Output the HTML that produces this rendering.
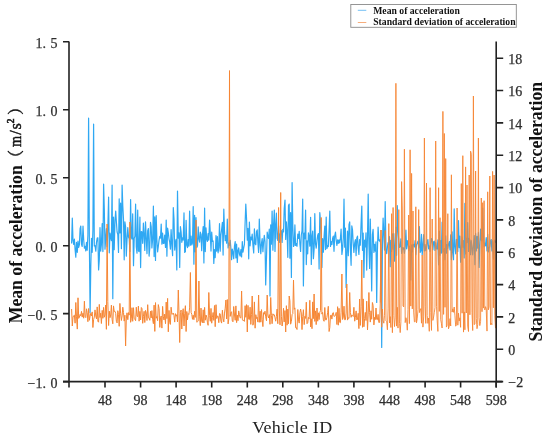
<!DOCTYPE html><html><head><meta charset="utf-8"><title>chart</title><style>html,body{margin:0;padding:0;background:#fff;width:550px;height:440px;overflow:hidden}svg{display:block}</style></head><body><svg width="550" height="440" viewBox="0 0 550 440">
<rect width="550" height="440" fill="#fff"/>
<polyline points="71.6,243.5 72.3,218.0 73.0,240.4 73.7,244.3 74.4,239.2 75.1,249.6 75.8,257.2 76.5,242.3 77.3,252.3 78.0,241.0 78.7,247.4 79.4,244.5 80.1,228.6 80.8,226.0 81.5,244.3 82.2,246.5 83.0,226.0 83.7,239.8 84.4,248.1 85.1,246.4 85.8,250.9 86.5,242.4 87.2,250.1 87.9,235.2 88.6,118.0 89.4,246.4 90.1,312.5 90.8,265.5 91.5,238.3 92.2,252.3 92.9,230.4 93.6,124.0 94.3,246.0 95.0,245.6 95.8,251.1 96.5,242.3 97.2,238.1 97.9,237.8 98.6,270.0 99.3,259.6 100.0,227.6 100.7,251.1 101.4,244.8 102.2,223.5 102.9,251.6 103.6,184.0 104.3,208.8 105.0,249.2 105.7,238.4 106.4,228.5 107.1,246.7 107.8,230.2 108.6,197.0 109.3,252.8 110.0,233.0 110.7,237.3 111.4,240.7 112.1,185.0 112.8,298.7 113.5,217.0 114.2,249.7 115.0,220.9 115.7,211.0 116.4,222.0 117.1,232.0 117.8,234.7 118.5,252.5 119.2,198.8 119.9,232.9 120.6,203.0 121.4,248.7 122.1,185.0 122.8,205.9 123.5,219.4 124.2,259.8 124.9,221.9 125.6,226.8 126.3,256.1 127.0,239.9 127.8,227.6 128.5,237.0 129.2,238.8 129.9,251.5 130.6,199.6 131.3,237.6 132.0,239.0 132.7,213.8 133.5,265.7 134.2,238.4 134.9,236.3 135.6,204.0 136.3,246.9 137.0,253.2 137.7,210.0 138.4,250.8 139.1,251.6 139.9,217.0 140.6,267.6 141.3,231.6 142.0,232.1 142.7,243.3 143.4,223.0 144.1,234.6 144.8,250.5 145.5,221.8 146.3,239.0 147.0,253.6 147.7,230.6 148.4,228.5 149.1,256.1 149.8,247.6 150.5,222.3 151.2,226.8 151.9,248.0 152.7,238.2 153.4,206.0 154.1,256.6 154.8,216.9 155.5,260.5 156.2,215.5 156.9,240.1 157.6,251.8 158.3,246.5 159.1,239.8 159.8,236.4 160.5,238.1 161.2,224.0 161.9,244.2 162.6,233.1 163.3,243.5 164.0,243.3 164.7,235.1 165.5,247.4 166.2,220.0 166.9,256.2 167.6,228.2 168.3,232.7 169.0,238.8 169.7,242.1 170.4,249.1 171.1,229.6 171.9,246.0 172.6,255.6 173.3,207.5 174.0,219.0 174.7,250.1 175.4,242.1 176.1,239.4 176.8,270.0 177.5,191.0 178.3,238.2 179.0,232.8 179.7,267.5 180.4,226.7 181.1,231.8 181.8,242.3 182.5,237.8 183.2,240.1 184.0,212.9 184.7,252.5 185.4,251.6 186.1,220.3 186.8,245.4 187.5,247.6 188.2,239.6 188.9,246.2 189.6,211.2 190.4,245.2 191.1,236.2 191.8,245.0 192.5,242.9 193.2,206.5 193.9,264.2 194.6,215.3 195.3,251.9 196.0,217.6 196.8,247.4 197.5,246.0 198.2,226.8 198.9,238.7 199.6,242.1 200.3,232.2 201.0,234.3 201.7,250.7 202.4,235.8 203.2,226.6 203.9,262.9 204.6,208.0 205.3,251.6 206.0,227.8 206.7,238.9 207.4,241.5 208.1,233.6 208.8,240.1 209.6,220.1 210.3,233.5 211.0,251.1 211.7,232.0 212.4,241.4 213.1,241.0 213.8,263.5 214.5,249.6 215.2,257.6 216.0,235.6 216.7,251.1 217.4,236.6 218.1,252.8 218.8,247.1 219.5,223.7 220.2,251.2 220.9,235.0 221.6,229.5 222.4,222.3 223.1,255.1 223.8,209.0 224.5,231.0 225.2,240.6 225.9,235.5 226.6,243.2 227.3,219.0 228.1,247.9 228.8,243.2 229.5,245.4 230.2,240.4 230.9,248.3 231.6,259.6 232.3,249.1 233.0,252.2 233.7,258.6 234.5,245.8 235.2,241.6 235.9,258.0 236.6,244.2 237.3,262.4 238.0,250.7 238.7,247.9 239.4,254.1 240.1,256.1 240.9,249.5 241.6,256.9 242.3,241.6 243.0,252.1 243.7,248.0 244.4,244.4 245.1,223.3 245.8,204.0 246.5,217.7 247.3,240.2 248.0,228.4 248.7,258.8 249.4,222.0 250.1,245.8 250.8,237.2 251.5,239.8 252.2,234.1 252.9,244.6 253.7,253.0 254.4,228.9 255.1,243.6 255.8,244.8 256.5,231.8 257.2,229.9 257.9,242.6 258.6,252.5 259.3,219.0 260.1,244.9 260.8,253.7 261.5,243.1 262.2,238.7 262.9,251.7 263.6,242.3 264.3,235.4 265.0,241.3 265.7,285.0 266.5,257.0 267.2,232.1 267.9,236.8 268.6,238.5 269.3,229.2 270.0,296.0 270.7,224.9 271.4,244.2 272.1,211.0 272.9,250.2 273.6,224.0 274.3,210.0 275.0,251.4 275.7,224.7 276.4,213.0 277.1,238.4 277.8,240.5 278.6,225.8 279.3,242.4 280.0,233.9 280.7,233.4 281.4,230.7 282.1,242.5 282.8,229.4 283.5,231.9 284.2,208.9 285.0,200.0 285.7,239.4 286.4,221.8 287.1,231.8 287.8,257.3 288.5,205.5 289.2,204.0 289.9,258.2 290.6,212.6 291.4,277.5 292.1,182.5 292.8,225.8 293.5,246.4 294.2,245.1 294.9,224.9 295.6,245.5 296.3,243.6 297.0,246.3 297.8,234.1 298.5,238.5 299.2,231.4 299.9,243.7 300.6,251.5 301.3,235.0 302.0,231.0 302.7,199.0 303.4,286.0 304.2,233.0 304.9,238.7 305.6,210.0 306.3,264.6 307.0,240.8 307.7,253.8 308.4,232.9 309.1,236.7 309.8,246.1 310.6,217.3 311.3,264.4 312.0,236.5 312.7,231.1 313.4,258.7 314.1,249.4 314.8,213.7 315.5,243.7 316.2,248.2 317.0,240.4 317.7,235.3 318.4,233.6 319.1,268.9 319.8,212.5 320.5,221.2 321.2,235.5 321.9,267.4 322.6,238.6 323.4,252.2 324.1,236.0 324.8,226.1 325.5,249.6 326.2,217.0 326.9,248.6 327.6,245.5 328.3,246.6 329.1,229.7 329.8,211.0 330.5,246.4 331.2,241.5 331.9,244.7 332.6,238.5 333.3,236.1 334.0,251.3 334.7,235.8 335.5,232.2 336.2,240.5 336.9,245.5 337.6,239.9 338.3,243.5 339.0,239.9 339.7,242.9 340.4,238.5 341.1,229.1 341.9,254.5 342.6,249.0 343.3,238.0 344.0,199.0 344.7,247.2 345.4,228.0 346.1,287.5 346.8,255.6 347.5,231.2 348.3,255.7 349.0,224.7 349.7,221.9 350.4,249.6 351.1,265.3 351.8,225.9 352.5,229.9 353.2,243.4 353.9,252.4 354.7,242.8 355.4,239.7 356.1,255.6 356.8,238.0 357.5,236.1 358.2,247.9 358.9,254.5 359.6,239.6 360.3,245.2 361.1,222.7 361.8,206.0 362.5,250.3 363.2,233.1 363.9,277.5 364.6,240.1 365.3,246.8 366.0,232.8 366.7,270.1 367.5,236.0 368.2,194.0 368.9,244.3 369.6,268.5 370.3,219.0 371.0,253.6 371.7,291.0 372.4,234.6 373.1,229.4 373.9,252.5 374.6,244.3 375.3,251.2 376.0,241.8 376.7,302.5 377.4,250.8 378.1,227.0 378.8,240.1 379.6,241.0 380.3,239.3 381.0,251.4 381.7,347.5 382.4,244.9 383.1,218.0 383.8,233.1 384.5,250.1 385.2,201.6 386.0,251.3 386.7,253.7 387.4,247.2 388.1,242.6 388.8,244.5 389.5,236.7 390.2,266.7 390.9,240.3 391.6,251.3 392.4,233.8 393.1,249.1 393.8,233.5 394.5,261.1 395.2,248.8 395.9,227.1 396.6,255.3 397.3,205.7 398.0,229.6 398.8,241.5 399.5,247.4 400.2,246.7 400.9,238.8 401.6,253.3 402.3,247.5 403.0,249.2 403.7,247.7 404.4,253.3 405.2,246.6 405.9,230.1 406.6,248.8 407.3,240.6 408.0,243.3 408.7,250.7 409.4,246.2 410.1,249.4 410.8,280.0 411.6,244.8 412.3,252.0 413.0,244.4 413.7,244.5 414.4,246.9 415.1,240.5 415.8,254.8 416.5,244.7 417.2,243.2 418.0,241.2 418.7,247.9 419.4,226.5 420.1,252.5 420.8,251.0 421.5,234.4 422.2,254.9 422.9,245.7 423.7,234.7 424.4,250.9 425.1,244.6 425.8,250.6 426.5,247.8 427.2,242.2 427.9,239.5 428.6,248.9 429.3,245.9 430.1,251.3 430.8,244.0 431.5,238.7 432.2,239.3 432.9,249.8 433.6,242.0 434.3,241.2 435.0,250.4 435.7,242.5 436.5,248.8 437.2,248.8 437.9,239.8 438.6,264.8 439.3,231.1 440.0,255.3 440.7,240.7 441.4,253.1 442.1,222.2 442.9,252.2 443.6,251.2 444.3,248.6 445.0,259.6 445.7,235.8 446.4,253.2 447.1,244.5 447.8,248.5 448.5,244.3 449.3,241.6 450.0,250.0 450.7,234.8 451.4,259.7 452.1,231.8 452.8,252.5 453.5,259.7 454.2,208.9 454.9,246.7 455.7,253.8 456.4,239.5 457.1,239.3 457.8,251.4 458.5,220.5 459.2,247.6 459.9,236.0 460.6,262.2 461.3,248.6 462.1,236.8 462.8,247.2 463.5,240.7 464.2,257.9 464.9,203.4 465.6,253.9 466.3,238.3 467.0,242.6 467.7,222.5 468.5,251.4 469.2,238.3 469.9,240.3 470.6,254.7 471.3,240.7 472.0,247.8 472.7,254.8 473.4,245.7 474.2,235.5 474.9,264.7 475.6,233.4 476.3,251.0 477.0,236.3 477.7,248.2 478.4,232.5 479.1,267.4 479.8,246.0 480.6,229.1 481.3,240.3 482.0,240.9 482.7,208.0 483.4,235.7 484.1,247.0 484.8,243.1 485.5,245.8 486.2,237.7 487.0,250.9 487.7,234.3 488.4,252.0 489.1,247.7 489.8,246.9 490.5,240.9 491.2,239.6 491.9,250.9 492.6,240.6 493.4,259.1 494.1,242.6 494.8,240.2 495.5,242.1 496.2,242.3" fill="none" stroke="#2fa8f3" stroke-width="1.2" stroke-linejoin="round" stroke-opacity="1"/>
<polyline points="71.6,309.0 72.3,326.0 73.0,317.0 73.7,315.7 74.4,315.2 75.1,323.2 75.8,302.5 76.5,316.8 77.3,329.1 78.0,297.8 78.7,318.4 79.4,317.1 80.1,314.4 80.8,315.8 81.5,311.4 82.2,317.1 83.0,313.2 83.7,318.2 84.4,301.2 85.1,316.7 85.8,317.6 86.5,308.8 87.2,312.6 87.9,321.7 88.6,308.5 89.4,320.3 90.1,316.0 90.8,313.2 91.5,316.0 92.2,311.9 92.9,327.5 93.6,319.6 94.3,317.0 95.0,309.9 95.8,316.0 96.5,318.9 97.2,306.9 97.9,321.3 98.6,322.2 99.3,304.4 100.0,317.5 100.7,313.2 101.4,323.5 102.2,310.4 102.9,318.3 103.6,307.4 104.3,317.2 105.0,314.7 105.7,305.0 106.4,329.3 107.1,224.0 107.8,301.7 108.6,325.5 109.3,311.2 110.0,317.7 110.7,315.0 111.4,305.1 112.1,319.4 112.8,323.8 113.5,305.9 114.2,311.4 115.0,311.3 115.7,313.4 116.4,321.4 117.1,322.9 117.8,310.7 118.5,314.6 119.2,326.3 119.9,303.4 120.6,313.2 121.4,320.5 122.1,315.9 122.8,307.2 123.5,312.4 124.2,321.1 124.9,315.2 125.6,346.0 126.3,319.0 127.0,312.8 127.8,319.7 128.5,312.6 129.2,315.1 129.9,222.0 130.6,322.3 131.3,318.8 132.0,307.7 132.7,321.3 133.5,307.7 134.2,318.5 134.9,319.1 135.6,320.7 136.3,307.2 137.0,316.3 137.7,316.6 138.4,306.1 139.1,321.2 139.9,311.4 140.6,320.0 141.3,307.5 142.0,308.7 142.7,323.3 143.4,316.6 144.1,311.3 144.8,322.5 145.5,310.4 146.3,313.1 147.0,320.5 147.7,304.7 148.4,317.8 149.1,318.0 149.8,320.3 150.5,311.2 151.2,317.9 151.9,310.6 152.7,319.8 153.4,323.7 154.1,305.1 154.8,331.4 155.5,302.6 156.2,318.2 156.9,316.5 157.6,320.7 158.3,304.6 159.1,308.6 159.8,327.4 160.5,317.8 161.2,316.0 161.9,328.1 162.6,306.4 163.3,316.3 164.0,320.0 164.7,314.1 165.5,323.7 166.2,302.1 166.9,318.6 167.6,298.4 168.3,331.8 169.0,310.4 169.7,322.6 170.4,324.4 171.1,307.2 171.9,314.4 172.6,314.0 173.3,313.1 174.0,315.6 174.7,322.1 175.4,313.6 176.1,316.2 176.8,314.7 177.5,321.9 178.3,290.0 179.0,313.2 179.7,342.5 180.4,312.5 181.1,310.0 181.8,329.0 182.5,312.9 183.2,308.7 184.0,326.0 184.7,313.7 185.4,305.7 186.1,331.5 186.8,311.5 187.5,319.8 188.2,313.6 188.9,314.4 189.6,307.9 190.4,272.5 191.1,312.4 191.8,314.4 192.5,319.3 193.2,315.2 193.9,319.7 194.6,311.3 195.3,317.4 196.0,220.0 196.8,322.2 197.5,321.7 198.2,321.1 198.9,281.0 199.6,316.9 200.3,325.6 201.0,308.1 201.7,321.6 202.4,322.8 203.2,309.8 203.9,323.0 204.6,307.4 205.3,320.2 206.0,315.0 206.7,317.2 207.4,322.2 208.1,325.3 208.8,292.5 209.6,315.7 210.3,321.3 211.0,308.4 211.7,323.2 212.4,317.6 213.1,312.5 213.8,320.4 214.5,305.5 215.2,326.7 216.0,304.7 216.7,318.5 217.4,316.0 218.1,316.3 218.8,322.7 219.5,313.5 220.2,313.8 220.9,321.0 221.6,323.1 222.4,310.2 223.1,318.4 223.8,321.9 224.5,313.1 225.2,308.2 225.9,300.0 226.6,319.0 227.3,299.5 228.1,323.9 228.8,318.9 229.5,70.6 230.2,316.4 230.9,312.4 231.6,311.7 232.3,321.1 233.0,321.8 233.7,306.5 234.5,315.0 235.2,320.3 235.9,305.9 236.6,322.6 237.3,315.1 238.0,320.7 238.7,310.9 239.4,314.4 240.1,317.8 240.9,317.8 241.6,291.0 242.3,319.2 243.0,320.7 243.7,320.2 244.4,321.4 245.1,305.7 245.8,317.3 246.5,304.6 247.3,332.0 248.0,305.4 248.7,319.2 249.4,319.6 250.1,307.2 250.8,324.4 251.5,314.7 252.2,296.0 252.9,325.2 253.7,322.1 254.4,301.9 255.1,328.2 255.8,314.7 256.5,318.5 257.2,317.3 257.9,322.1 258.6,295.0 259.3,322.3 260.1,311.2 260.8,322.2 261.5,309.6 262.2,319.3 262.9,326.6 263.6,312.6 264.3,314.2 265.0,311.2 265.7,316.8 266.5,320.8 267.2,295.0 267.9,315.5 268.6,318.0 269.3,314.6 270.0,324.3 270.7,297.5 271.4,315.3 272.1,323.7 272.9,313.8 273.6,315.1 274.3,314.8 275.0,317.7 275.7,321.2 276.4,316.4 277.1,309.1 277.8,323.7 278.6,207.5 279.3,310.9 280.0,324.8 280.7,192.5 281.4,316.2 282.1,326.0 282.8,321.0 283.5,308.3 284.2,321.9 285.0,310.6 285.7,332.0 286.4,305.7 287.1,325.2 287.8,309.1 288.5,323.7 289.2,296.0 289.9,300.7 290.6,324.2 291.4,321.3 292.1,314.6 292.8,313.7 293.5,280.0 294.2,309.3 294.9,307.9 295.6,327.7 296.3,327.5 297.0,329.5 297.8,309.5 298.5,319.9 299.2,323.1 299.9,312.8 300.6,309.0 301.3,313.0 302.0,329.6 302.7,316.4 303.4,309.7 304.2,324.6 304.9,316.3 305.6,318.4 306.3,302.2 307.0,323.7 307.7,322.8 308.4,317.4 309.1,318.8 309.8,300.3 310.6,327.0 311.3,318.8 312.0,328.7 312.7,301.9 313.4,318.6 314.1,294.0 314.8,321.4 315.5,310.9 316.2,324.6 317.0,308.0 317.7,321.2 318.4,312.8 319.1,319.6 319.8,312.3 320.5,310.6 321.2,217.5 321.9,314.1 322.6,312.4 323.4,319.9 324.1,321.3 324.8,307.5 325.5,319.8 326.2,320.0 326.9,317.4 327.6,312.7 328.3,306.3 329.1,331.5 329.8,327.5 330.5,315.4 331.2,315.0 331.9,319.1 332.6,313.2 333.3,312.5 334.0,316.4 334.7,316.1 335.5,315.4 336.2,312.4 336.9,324.5 337.6,306.7 338.3,325.2 339.0,308.3 339.7,322.3 340.4,322.7 341.1,312.2 341.9,274.0 342.6,319.5 343.3,317.0 344.0,306.2 344.7,319.8 345.4,319.7 346.1,313.1 346.8,284.0 347.5,320.1 348.3,317.8 349.0,318.4 349.7,292.5 350.4,312.4 351.1,317.3 351.8,314.9 352.5,315.6 353.2,316.5 353.9,307.3 354.7,321.2 355.4,317.4 356.1,310.9 356.8,320.0 357.5,319.2 358.2,313.3 358.9,328.6 359.6,299.0 360.3,325.4 361.1,306.7 361.8,260.0 362.5,327.3 363.2,298.9 363.9,326.8 364.6,318.6 365.3,312.4 366.0,320.5 366.7,301.2 367.5,329.9 368.2,314.9 368.9,292.5 369.6,312.7 370.3,322.1 371.0,310.8 371.7,319.3 372.4,302.5 373.1,305.3 373.9,324.9 374.6,317.3 375.3,319.6 376.0,308.0 376.7,319.4 377.4,319.7 378.1,314.4 378.8,322.5 379.6,322.4 380.3,302.8 381.0,230.0" fill="none" stroke="#f68634" stroke-width="1.0" stroke-linejoin="round" stroke-opacity="1"/>
<polyline points="380.3,302.8 381.0,230.0 381.7,327.2 382.4,309.1 383.1,320.3 383.8,323.2 384.5,315.7 385.2,230.4 386.0,321.0 386.7,321.7 387.4,329.8 388.1,308.8 388.8,223.6 389.5,323.0 390.2,316.6 390.9,327.5 391.6,213.7 392.4,332.7 393.1,207.5 393.8,315.7 394.5,326.6 395.2,317.9 395.9,83.3 396.6,326.1 397.3,307.3 398.0,328.1 398.8,209.6 399.5,323.3 400.2,332.6 400.9,321.8 401.6,181.6 402.3,208.0 403.0,306.0 403.7,306.9 404.4,149.2 405.2,322.6 405.9,317.7 406.6,319.8 407.3,330.2 408.0,309.6 408.7,215.0 409.4,323.6 410.1,149.8 410.8,306.1 411.6,173.4 412.3,308.9 413.0,211.0 413.7,312.1 414.4,321.8 415.1,321.9 415.8,206.8 416.5,322.8 417.2,318.8 418.0,309.6 418.7,209.6 419.4,312.6 420.1,310.0 420.8,308.6 421.5,323.2 422.2,255.1 422.9,327.1 423.7,316.9 424.4,138.0 425.1,306.3 425.8,323.4 426.5,183.0 427.2,315.5 427.9,323.4 428.6,318.0 429.3,331.3 430.1,187.7 430.8,312.7 431.5,330.4 432.2,219.0 432.9,320.4 433.6,317.0 434.3,312.4 435.0,307.6 435.7,141.0 436.5,306.3 437.2,320.9 437.9,331.4 438.6,187.7 439.3,311.4 440.0,217.7 440.7,319.7 441.4,323.3 442.1,328.0 442.9,111.4 443.6,314.4 444.3,133.5 445.0,307.3 445.7,158.6 446.4,327.1 447.1,325.3 447.8,213.7 448.5,328.8 449.3,326.1 450.0,318.6 450.7,326.0 451.4,174.8 452.1,312.1 452.8,308.8 453.5,312.3 454.2,307.0 454.9,315.1 455.7,326.2 456.4,324.8 457.1,208.0 457.8,325.2 458.5,313.2 459.2,321.0 459.9,317.8 460.6,327.3 461.3,183.6 462.1,313.2 462.8,155.7 463.5,332.1 464.2,311.9 464.9,329.8 465.6,166.9 466.3,313.0 467.0,185.0 467.7,326.1 468.5,331.5 469.2,175.0 469.9,314.8 470.6,151.2 471.3,154.2 472.0,312.5 472.7,330.5 473.4,96.0 474.2,324.7 474.9,324.0 475.6,171.0 476.3,318.7 477.0,328.7 477.7,324.8 478.4,138.0 479.1,317.8 479.8,325.6 480.6,321.4 481.3,198.0 482.0,311.7 482.7,202.7 483.4,308.1 484.1,200.7 484.8,309.9 485.5,306.7 486.2,308.9 487.0,331.1 487.7,191.8 488.4,309.8 489.1,306.8 489.8,176.0 490.5,324.7 491.2,323.1 491.9,324.8 492.6,171.4 493.4,307.8 494.1,175.0 494.8,315.8 495.5,328.1 496.2,180.0" fill="none" stroke="#f68634" stroke-width="0.9" stroke-linejoin="round" stroke-opacity="1"/>
<path d="M69.0 41.4V387.6M63.0 381.6H502.2M496.2 41.4V387.6" stroke="#222" stroke-width="1.6" fill="none"/>
<path d="M63.0 41.8H69.0M63.0 109.8H69.0M63.0 177.7H69.0M63.0 245.7H69.0M63.0 313.6H69.0M63.0 381.6H69.0M105.0 381.6V387.6M140.6 381.6V387.6M176.1 381.6V387.6M211.7 381.6V387.6M247.3 381.6V387.6M282.8 381.6V387.6M318.4 381.6V387.6M353.9 381.6V387.6M389.5 381.6V387.6M425.1 381.6V387.6M460.6 381.6V387.6M496.2 381.6V387.6M496.2 381.6H503.2M496.2 349.3H503.2M496.2 316.9H503.2M496.2 284.6H503.2M496.2 252.2H503.2M496.2 219.9H503.2M496.2 187.6H503.2M496.2 155.2H503.2M496.2 122.9H503.2M496.2 90.5H503.2M496.2 58.2H503.2" stroke="#222" stroke-width="1.6" fill="none"/>
<g font-family="Liberation Serif, serif" font-size="14" fill="#2e2e2e" stroke="#2e2e2e" stroke-width="0.25">
<text x="57.5" y="47.7" text-anchor="end">1.<tspan dx="4.5">5</tspan></text>
<text x="57.5" y="115.7" text-anchor="end">1.<tspan dx="4.5">0</tspan></text>
<text x="57.5" y="183.6" text-anchor="end">0.<tspan dx="4.5">5</tspan></text>
<text x="57.5" y="251.6" text-anchor="end">0.<tspan dx="4.5">0</tspan></text>
<text x="57.5" y="319.5" text-anchor="end">−0.<tspan dx="4.5">5</tspan></text>
<text x="57.5" y="387.5" text-anchor="end">−1.<tspan dx="4.5">0</tspan></text>
<text x="105.0" y="405" text-anchor="middle">48</text>
<text x="140.6" y="405" text-anchor="middle">98</text>
<text x="176.1" y="405" text-anchor="middle">148</text>
<text x="211.7" y="405" text-anchor="middle">198</text>
<text x="247.3" y="405" text-anchor="middle">248</text>
<text x="282.8" y="405" text-anchor="middle">298</text>
<text x="318.4" y="405" text-anchor="middle">348</text>
<text x="353.9" y="405" text-anchor="middle">398</text>
<text x="389.5" y="405" text-anchor="middle">448</text>
<text x="425.1" y="405" text-anchor="middle">498</text>
<text x="460.6" y="405" text-anchor="middle">548</text>
<text x="496.2" y="405" text-anchor="middle">598</text>
<text x="508.3" y="387.2">−2</text>
<text x="508.3" y="354.9">0</text>
<text x="508.3" y="322.5">2</text>
<text x="508.3" y="290.2">4</text>
<text x="508.3" y="257.8">6</text>
<text x="508.3" y="225.5">8</text>
<text x="508.3" y="193.2">10</text>
<text x="508.3" y="160.8">12</text>
<text x="508.3" y="128.5">14</text>
<text x="508.3" y="96.1">16</text>
<text x="508.3" y="63.8">18</text>
</g>
<text x="0" y="0" transform="translate(21.8 323.3) rotate(-90) scale(1 1.06)" font-family="Liberation Serif, serif" font-weight="bold" font-size="17.7" fill="#111">Mean of acceleration</text>
<g transform="translate(21.2 0) rotate(-90) scale(1 1.05)" fill="#151515" stroke="#151515" stroke-width="0.45" font-family="Liberation Serif, serif" font-size="16.3">
<text x="-165.6" y="0" font-family="Noto Serif CJK SC, serif" font-size="15.5">（</text>
<text x="-146.9" y="0" textLength="11.2" lengthAdjust="spacingAndGlyphs">m</text>
<text x="-134.85" y="0">/</text>
<text x="-129.5" y="0">s</text>
<text x="-123.5" y="-1.8">²</text>
<text x="-114.9" y="0" font-family="Noto Serif CJK SC, serif" font-size="15.5">）</text>
</g>
<text x="0" y="0" transform="translate(542.4 341.6) rotate(-90) scale(1 1.06)" font-family="Liberation Serif, serif" font-weight="bold" font-size="17.7" fill="#111">Standard deviation of acceleration</text>
<text x="0" y="0" transform="translate(292.3 432.8) scale(1 0.9)" text-anchor="middle" font-family="Liberation Serif, serif" font-size="18" letter-spacing="0.28" fill="#222">Vehicle ID</text>
<rect x="350.8" y="4.5" width="165.5" height="22.8" fill="#fff" stroke="#8a8a8a" stroke-width="0.9"/>
<path d="M357.8 10.3H366.3" stroke="#74c0f4" stroke-width="1"/>
<path d="M357.8 22.5H366.3" stroke="#f6ad7c" stroke-width="1"/>
<g font-family="Liberation Serif, serif" font-weight="bold" font-size="9.7" fill="#111">
<text x="373.2" y="13.6">Mean of acceleration</text>
<text x="373.2" y="25.2">Standard deviation of acceleration</text>
</g>
</svg></body></html>
